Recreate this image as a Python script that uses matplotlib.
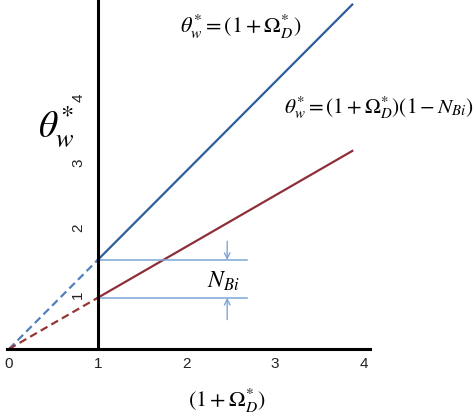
import matplotlib
matplotlib.use("Agg")
import matplotlib.pyplot as plt
import numpy as np

plt.rcParams['mathtext.fontset'] = 'stix'
plt.rcParams['font.family'] = ['Liberation Sans', 'DejaVu Sans']

# data
x_dashed = [0, 1]
x_solid = [1, 3.87]
factor_red = 0.575          # (1 - N_Bi)
x_ticks = [0, 1, 2, 3, 4]
x_tick_labels = ['0', '1', '2', '3', '4']
y_tick_pos = [0.61, 1.36, 2.09, 2.82]
y_tick_labels = ['1', '2', '3', '4']

blue_solid = '#2D5E99'
blue_dash = '#4F81BD'
red_solid = '#8E2E38'
red_dash = '#953735'
helper = '#7DA6D6'

fig = plt.figure(figsize=(4.74, 4.17), dpi=100)
ax = fig.add_axes([0, 0, 1, 1])
ax.set_xlim(-0.101, 5.242)
ax.set_ylim(-0.764, 3.921)
ax.patch.set_alpha(0)

xd = np.array(x_dashed, float)
xs = np.array(x_solid, float)
ax.plot(xd, xd, color=blue_dash, lw=1.6, ls=(0, (3.5, 2)))
ax.plot(xd, xd * factor_red, color=red_dash, lw=1.6, ls=(0, (3.5, 2)))
ax.plot(xs, xs, color=blue_solid, lw=1.6)
ax.plot(xs, xs * factor_red, color=red_solid, lw=1.6)

# helper lines
x_help_end = 2.68
ax.plot([1, x_help_end], [1, 1], color=helper, lw=1.1)
ax.plot([1, x_help_end], [factor_red, factor_red], color=helper, lw=1.1)
xa = 2.46
ax.annotate('', xy=(xa, 1), xytext=(xa, 1.21),
            arrowprops=dict(arrowstyle='->', color=helper, lw=1.0, shrinkA=0, shrinkB=0))
ax.annotate('', xy=(xa, factor_red), xytext=(xa, 0.33),
            arrowprops=dict(arrowstyle='->', color=helper, lw=1.0, shrinkA=0, shrinkB=0))

# spines as axes
for s in ['top', 'right']:
    ax.spines[s].set_visible(False)
ax.spines['left'].set_position(('data', 1))
ax.spines['bottom'].set_position(('data', 0))
ax.spines['left'].set_bounds(0, 3.921)
ax.spines['bottom'].set_bounds(-0.02, 4.07)
ax.spines['left'].set_linewidth(2.2)
ax.spines['bottom'].set_linewidth(2.2)

ax.set_xticks(x_ticks)
ax.set_xticklabels(x_tick_labels, fontsize=11, color='#222222')
ax.set_yticks(y_tick_pos)
ax.set_yticklabels(y_tick_labels, fontsize=11, rotation=90, color='#222222', va='center')
ax.tick_params(axis='x', length=0, pad=6)
ax.tick_params(axis='y', length=0, pad=9)

# labels
ax.text(1.93, 3.62, r'$\theta_w^{*}=(1+\Omega_D^{*})$', fontsize=16, va='center', ha='left')
ax.text(3.10, 2.71, r'$\theta_w^{*}=(1+\Omega_D^{*})(1-N_{Bi})$', fontsize=15.3, va='center', ha='left')
ax.text(0.33, 2.49, r'$\theta_w^{*}$', fontsize=27, va='center', ha='left')
ax.text(2.23, 0.76, r'$N_{Bi}$', fontsize=17, va='center', ha='left')
ax.text(2.46, -0.58, r'$(1+\Omega_D^{*})$', fontsize=16, va='center', ha='center')

fig.savefig('out.png', dpi=100)
